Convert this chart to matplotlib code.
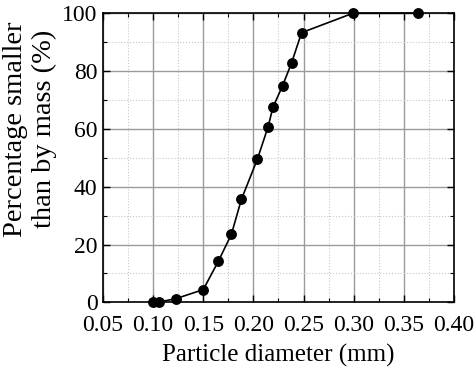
import matplotlib
matplotlib.use("Agg")
import matplotlib.pyplot as plt
from matplotlib.ticker import MultipleLocator

plt.rcParams['font.family'] = ['Liberation Serif', 'DejaVu Serif']

# particle size distribution
diameter = [0.100, 0.106, 0.123, 0.150, 0.165, 0.178, 0.188, 0.204, 0.2145,
            0.2195, 0.229, 0.238, 0.248, 0.299, 0.364]
percent = [0.0, 0.1, 1.3, 4.4, 14.2, 23.5, 35.6, 49.6, 60.6,
           67.5, 74.9, 82.8, 93.3, 100.0, 100.0]

fig = plt.figure(figsize=(4.74, 3.73), dpi=100)
ax = fig.add_axes([0.2173, 0.1895, 0.7405, 0.7748])

ax.plot(diameter, percent, color='black', lw=1.2, marker='o', ms=6.8, zorder=3, clip_on=False)

ax.set_xlim(0.05, 0.40)
ax.set_ylim(0, 100)
ax.xaxis.set_major_locator(MultipleLocator(0.05))
ax.xaxis.set_minor_locator(MultipleLocator(0.025))
ax.yaxis.set_major_locator(MultipleLocator(20))
ax.yaxis.set_minor_locator(MultipleLocator(10))
ax.set_xticklabels([f"{v:.2f}" for v in ax.get_xticks()])

ax.grid(True, which='major', color='#9a9a9a', lw=1.0, ls='-')
ax.grid(True, which='minor', color='#c8c8c8', lw=0.8, ls=':')
ax.set_axisbelow(True)

ax.tick_params(which='both', direction='in', top=True, right=True, labelsize=17)
ax.tick_params(axis='x', pad=9)
ax.tick_params(axis='y', pad=4)
ax.tick_params(which='major', length=5, width=1.0)
ax.tick_params(which='minor', length=3, width=0.8)
for s in ax.spines.values():
    s.set_linewidth(1.2)

ax.set_xlabel("Particle diameter (mm)", fontsize=18, labelpad=6)
ax.set_ylabel("Percentage smaller\nthan by mass (%)", fontsize=20.5, va='center')
ax.yaxis.set_label_coords(-0.208, 0.60)

fig.savefig("out.png", dpi=100)
